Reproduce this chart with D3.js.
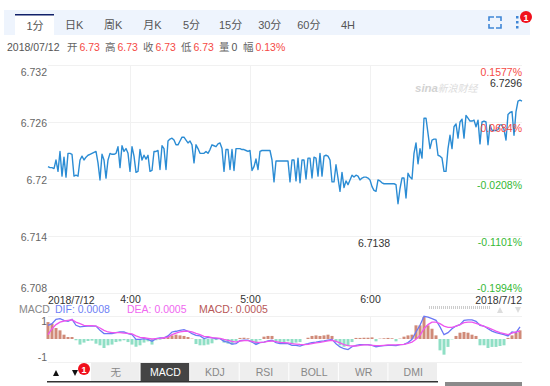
<!DOCTYPE html>
<html>
<head>
<meta charset="utf-8">
<script src="https://cdn.jsdelivr.net/npm/d3@7"></script>
<style>
  html, body { margin: 0; padding: 0; background: #fff; }
  svg { display: block; }
  text { font-family: "Liberation Sans", "Noto Sans CJK SC", sans-serif; }
  .domain { display: none; }
</style>
</head>
<body>
<div id="container"></div>
<script>
// one value per minute
const prices = [
  6.7213,6.7212,6.7212,6.7211,6.7220,6.7208,6.7229,6.7203,6.7223,6.7202,6.7227,6.7227,6.7226,6.7203,6.7204,6.7203,6.7220,6.7224,6.7220,6.7223,
  6.7225,6.7226,6.7227,6.7228,6.7229,6.7217,6.7199,6.7226,6.7220,6.7201,6.7220,6.7227,6.7226,6.7226,6.7227,6.7234,6.7212,6.7235,6.7229,6.7232,
  6.7227,6.7208,6.7234,6.7224,6.7207,6.7208,6.7231,6.7220,6.7225,6.7221,6.7225,6.7208,6.7209,6.7229,6.7229,6.7230,6.7210,6.7235,6.7232,6.7210,
  6.7240,6.7242,6.7243,6.7241,6.7236,6.7236,6.7240,6.7244,6.7244,6.7241,6.7238,6.7240,6.7236,6.7217,6.7236,6.7232,6.7227,6.7227,6.7227,6.7229,6.7227,
  6.7231,6.7236,6.7235,6.7234,6.7237,6.7238,6.7232,6.7208,6.7231,6.7231,6.7210,6.7231,6.7209,6.7232,6.7232,6.7232,6.7231,6.7231,6.7230,6.7229,
  6.7230,6.7209,6.7213,6.7221,6.7210,6.7229,6.7230,6.7230,6.7230,6.7230,6.7230,6.7220,6.7197,6.7219,6.7219,6.7219,6.7219,6.7219,6.7219,6.7219,
  6.7197,6.7220,6.7220,6.7198,6.7222,6.7196,6.7220,6.7220,6.7200,6.7222,6.7222,6.7201,6.7223,6.7222,6.7203,6.7227,6.7203,6.7224,6.7225,6.7224,
  6.7220,6.7197,6.7197,6.7215,6.7201,6.7187,6.7207,6.7191,6.7198,6.7194,6.7199,6.7204,6.7202,6.7204,6.7203,6.7199,6.7201,6.7202,6.7202,6.7201,6.7199,
  6.7192,6.7188,6.7187,6.7199,6.7198,6.7196,6.7195,6.7195,6.7195,6.7195,6.7195,6.7195,6.7194,6.7174,6.7190,6.7201,6.7201,6.7180,6.7206,6.7202,
  6.7200,6.7227,6.7238,6.7216,6.7232,6.7222,6.7264,6.7264,6.7248,6.7232,6.7241,6.7242,6.7242,6.7225,6.7224,6.7222,6.7208,6.7208,6.7232,6.7246,
  6.7232,6.7255,6.7258,6.7243,6.7260,6.7263,6.7243,6.7267,6.7264,6.7261,6.7261,6.7262,6.7255,6.7262,6.7237,6.7260,6.7261,6.7260,6.7236,6.7257,
  6.7251,6.7251,6.7251,6.7252,6.7257,6.7257,6.7252,6.7241,6.7268,6.7270,6.7271,6.7246,6.7271,6.7282,6.7283,6.7282
];

// macd arrays: one value every 2 minutes
const dif = [
  .76,.85,1.09,1.13,1.04,.98,1.09,.76,.67,.70,.72,.72,.72,.48,.30,.30,.30,.35,.39,.39,.30,.24,-.02,-.02,.02,-.02,-.13,.02,.06,.06,.17,.39,.43,.48,.52,.43,.30,.20,.17,.02,
  .09,.06,.02,.02,-.13,-.17,-.28,-.26,-.09,-.07,-.07,-.17,-.30,-.20,-.17,-.11,-.07,-.20,-.26,-.26,-.26,-.35,-.35,-.39,-.31,-.26,-.20,-.17,-.13,-.11,-.06,-.02,-.26,-.44,-.54,-.59,-.43,-.35,-.31,-.31,
  -.31,-.35,-.43,-.39,-.37,-.35,-.35,-.37,-.31,-.30,-.20,-.02,.39,.76,1.26,1.22,1.13,1.04,.67,.24,.35,.57,.72,.80,1.04,1.06,1.06,.98,.76,.72,.57,.44,.35,.30,.24,.17,.39,.35,.67
];
const dea = [
  .24,.57,.80,.94,1.00,1.04,1.07,.94,.85,.76,.74,.74,.72,.61,.48,.39,.35,.35,.35,.33,.31,.28,.17,.09,.07,.04,0,.02,.04,.07,.11,.24,.33,.39,.43,.43,.39,.31,.24,.15,
  .13,.07,.06,.04,-.02,-.07,-.13,-.17,-.11,-.09,-.09,-.13,-.19,-.19,-.17,-.13,-.11,-.15,-.19,-.20,-.22,-.26,-.28,-.30,-.31,-.30,-.26,-.22,-.19,-.15,-.11,-.07,-.13,-.22,-.31,-.37,-.39,-.39,-.35,-.33,
  -.33,-.35,-.37,-.37,-.35,-.33,-.33,-.33,-.31,-.30,-.24,-.17,-.02,.20,.57,.80,.94,.94,.85,.72,.65,.65,.72,.80,.91,.94,.94,.87,.80,.70,.63,.54,.44,.35,.30,.24,.33,.39,.43
];
const macd = [
  .94,.85,.61,.48,.24,.11,.11,-.07,-.31,-.20,-.11,-.09,-.26,-.35,-.50,-.35,-.31,-.17,-.13,-.07,-.17,-.31,-.43,-.35,-.20,-.13,-.31,-.07,-.04,.06,.17,.20,.24,.20,.17,.11,.02,-.28,-.35,-.35,
  -.31,-.24,-.06,0,-.20,-.26,-.31,-.13,.06,.07,.04,-.17,-.28,-.07,.13,.17,.17,-.13,-.20,-.17,-.13,-.28,-.20,-.17,0,.07,.17,.20,.17,.20,.24,.17,-.17,-.35,-.43,-.39,-.17,.06,.06,.07,
  .07,.09,-.13,.02,.04,.06,.04,-.13,.02,.13,.20,.24,.76,.76,1.22,.76,.57,.20,-.63,-.87,-.44,-.02,.17,.35,.39,.35,.24,.17,-.35,-.35,-.50,-.44,-.44,-.39,-.35,.06,.20,.35,.48
];

const priceTicks = [6.708, 6.714, 6.72, 6.726, 6.732];
const pctTicks = ["0.1577%", "0.0684%", "-0.0208%", "-0.1101%", "-0.1994%"];
const timeTicks = [41, 101, 161];
const timeLabels = ["4:00", "5:00", "6:00"];
const periods = ["1分", "日K", "周K", "月K", "5分", "15分", "30分", "60分", "4H"];
const infoNames = ["开", "高", "收", "低", "量", "幅"];
const infoValues = ["6.73", "6.73", "6.73", "6.73", "0", "0.13%"];
const indicators = ["无", "MACD", "KDJ", "RSI", "BOLL", "WR", "DMI"];

const width = 550, height = 386;
const left = 48, right = 522;
const red = "#f54a45", green = "#35b935", grey = "#666", grid = "#f1f1f1";

const svg = d3.select("#container").append("svg")
  .attr("width", width)
  .attr("height", height);

const x = d3.scaleLinear().domain([0, prices.length - 1]).range([left, right]);
const y = d3.scaleLinear().domain([6.708, 6.732]).range([293, 65]);
const yMacd = d3.scaleLinear().domain([-1, 1]).range([357, 321]);

function label(g, px, py, txt, color, size, anchor) {
  return g.append("text")
    .attr("x", px).attr("y", py)
    .attr("fill", color)
    .attr("font-size", size)
    .attr("text-anchor", anchor || "start")
    .text(txt);
}

// toolbar
const bar = svg.append("g");
bar.append("rect").attr("x", 4).attr("y", 10).attr("width", 526).attr("height", 25).attr("fill", "#eef4fd");
bar.append("rect").attr("x", 15).attr("y", 14).attr("width", 39).attr("height", 21).attr("fill", "#fff");
bar.append("rect").attr("x", 15).attr("y", 14).attr("width", 39).attr("height", 1.5).attr("fill", "#10206a");

const tabX = d3.scalePoint().domain(periods).range([35, 348]);
bar.selectAll("text.period").data(periods).join("text")
  .attr("class", "period")
  .attr("x", d => tabX(d))
  .attr("y", (d, i) => i == 0 ? 30 : 29)
  .attr("text-anchor", "middle")
  .attr("font-size", 11)
  .attr("fill", "#555")
  .text(d => d);

bar.append("path")
  .attr("d", "M489 21V17H494M496 17H501V21M501 24V28H496M494 28H489V24")
  .attr("fill", "none").attr("stroke", "#3f86d6").attr("stroke-width", 1.6);
bar.selectAll("rect.dot").data([17, 22, 27]).join("rect")
  .attr("class", "dot")
  .attr("x", 516).attr("y", d => d - 1)
  .attr("width", 2.5).attr("height", 2.5)
  .attr("fill", "#3f86d6");
bar.append("circle").attr("cx", 526).attr("cy", 17).attr("r", 6).attr("fill", "#f0101c");
label(bar, 526, 20.5, "1", "#fff", 9, "middle").attr("font-weight", "bold");

// info line
const info = svg.append("g");
label(info, 7, 51, "2018/07/12", "#555", 10.5);
const infoX = [67, 105, 143, 181, 219, 243];
infoNames.forEach((n, i) => {
  label(info, infoX[i], 51, n, "#666", 10.5);
  label(info, infoX[i] + 12.5, 51, infoValues[i], infoValues[i] == "0" ? "#555" : red, 10.5);
});

// grid
const gridG = svg.append("g").attr("stroke", grid).attr("stroke-width", 1).attr("shape-rendering", "crispEdges");
gridG.selectAll("line.h").data(priceTicks).join("line")
  .attr("class", "h")
  .attr("x1", left).attr("x2", right)
  .attr("y1", d => Math.round(y(d)) + .5).attr("y2", d => Math.round(y(d)) + .5);
gridG.selectAll("line.v").data(timeTicks).join("line")
  .attr("class", "v")
  .attr("x1", d => Math.round(x(d)) + .5).attr("x2", d => Math.round(x(d)) + .5)
  .attr("y1", 65).attr("y2", 293);
gridG.selectAll("line.v2").data(timeTicks).join("line")
  .attr("class", "v2")
  .attr("x1", d => Math.round(x(d)) + .5).attr("x2", d => Math.round(x(d)) + .5)
  .attr("y1", 316).attr("y2", 362);
gridG.selectAll("line.h2").data([316, 362]).join("line")
  .attr("class", "h2")
  .attr("x1", left).attr("x2", right)
  .attr("y1", d => d + .5).attr("y2", d => d + .5);

// watermark
const mark = svg.append("g").attr("font-style", "italic");
label(mark, 415, 92, "sina", "#d2d2d2", 11.5).attr("font-weight", "bold");
label(mark, 437.5, 92, "新浪财经", "#dcdcdc", 10);

// price line
const line = d3.line().x((d, i) => x(i)).y(d => y(d));
svg.append("path")
  .attr("d", line(prices))
  .attr("fill", "none")
  .attr("stroke", "#2b8cd4")
  .attr("stroke-linejoin", "round")
  .attr("stroke-width", 1.4);

// axes
const yAxis = svg.append("g")
  .attr("transform", `translate(${left},0)`)
  .call(d3.axisLeft(y).tickValues(priceTicks).tickSize(0).tickPadding(1).tickFormat(d3.format("~r")));
yAxis.selectAll("text")
  .attr("fill", grey)
  .attr("font-size", 10.5)
  .attr("font-family", null)
  .attr("dy", d => d == 6.732 ? "1em" : d == 6.708 ? "-0.15em" : "0.4em");

const xAxis = svg.append("g")
  .attr("transform", "translate(0,293)")
  .call(d3.axisBottom(x).tickValues(timeTicks).tickSize(0).tickPadding(3).tickFormat((d, i) => timeLabels[i]));
xAxis.selectAll("text").attr("fill", "#333").attr("font-size", 10.5).attr("font-family", null);

label(svg, left, 304, "2018/7/12", "#333", 10.5);
label(svg, right, 304, "2018/7/12", "#333", 10.5, "end");

// right side labels
const pctY = [75.5, 132, 189, 246, 292];
pctTicks.forEach((t, i) => label(svg, right, pctY[i], t, i < 2 ? red : green, 10.5, "end"));
label(svg, right, 86.5, "6.7296", "#333", 10.5, "end");
label(svg, 358, 247, "6.7138", "#333", 10.5);

// macd legend
label(svg, 19, 313, "MACD", "#888", 10.5);
label(svg, 55, 313, "DIF: 0.0008", "#6f7ff5", 10.5);
label(svg, 127, 313, "DEA: 0.0005", "#f068f0", 10.5);
label(svg, 199, 313, "MACD: 0.0005", "#b85858", 10.5);
label(svg, 47, 325, "1", grey, 10.5, "end");
label(svg, 47, 361, "-1", grey, 10.5, "end");

svg.append("line")
  .attr("x1", 429).attr("x2", 491).attr("y1", 307.5).attr("y2", 307.5)
  .attr("stroke", "#ccc").attr("stroke-width", 3).attr("stroke-dasharray", "1,1");
svg.append("path").attr("d", "M497 313L500 307L503 313Z").attr("fill", "#ddd");
svg.append("path").attr("d", "M515 307L518 313L521 307Z").attr("fill", "#ddd");

// macd bars and lines
svg.selectAll("rect.macd").data(macd).join("rect")
  .attr("class", "macd")
  .attr("x", (d, i) => x(i * 2) - 1.5)
  .attr("width", 3)
  .attr("y", d => Math.min(yMacd(d), yMacd(0)))
  .attr("height", d => Math.abs(yMacd(d) - yMacd(0)))
  .attr("fill", d => d >= 0 ? "#d08a78" : "#8fdfc5");

const macdLine = d3.line().x((d, i) => x(i * 2)).y(d => yMacd(d));
svg.append("path").attr("d", macdLine(dif)).attr("fill", "none").attr("stroke", "#6a78f5").attr("stroke-width", 1.3);
svg.append("path").attr("d", macdLine(dea)).attr("fill", "none").attr("stroke", "#ee55ee").attr("stroke-width", 1.3);

// bottom tabs
const tabs = svg.append("g");
const tabBand = d3.scaleBand().domain(indicators).range([91, 438]);
tabs.selectAll("rect").data(indicators).join("rect")
  .attr("x", d => tabBand(d))
  .attr("y", 363)
  .attr("width", tabBand.bandwidth() - 1)
  .attr("height", 18)
  .attr("fill", d => d == "MACD" ? "#444" : "#eee");
tabs.selectAll("text.tab").data(indicators).join("text")
  .attr("class", "tab")
  .attr("x", d => tabBand(d) + tabBand.bandwidth() / 2)
  .attr("y", 376)
  .attr("text-anchor", "middle")
  .attr("font-size", 10.5)
  .attr("fill", d => d == "MACD" ? "#fff" : "#888")
  .text(d => d);
tabs.append("rect").attr("x", 47).attr("y", 381).attr("width", 391).attr("height", 1.5).attr("fill", "#333");
tabs.append("path").attr("d", "M53 376L56 370L59 376Z").attr("fill", "#111");
tabs.append("path").attr("d", "M72 370L75 376L78 370Z").attr("fill", "#111");
tabs.append("circle").attr("cx", 84).attr("cy", 369).attr("r", 6).attr("fill", "#f0101c");
label(tabs, 84, 372.5, "1", "#fff", 9, "middle").attr("font-weight", "bold");
tabs.append("rect").attr("x", 445).attr("y", 382).attr("width", 77).attr("height", 4).attr("fill", "#8a8a8a");
</script>
</body>
</html>
